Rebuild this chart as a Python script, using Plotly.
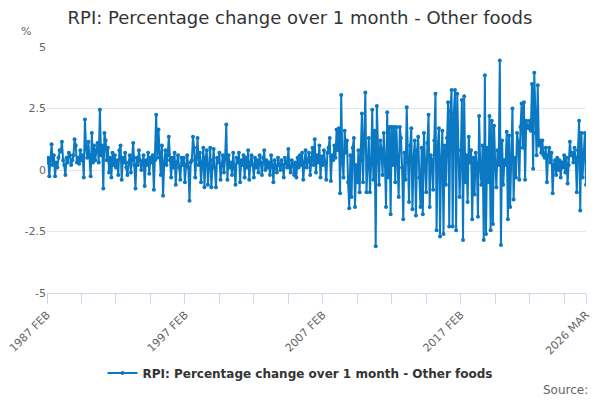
import plotly.graph_objects as go

# Monthly % change, RPI other foods, Feb 1987 - Mar 2026
y1987 = [0.3, 0.5, -0.25, 0.4, 1.05, 0.2, 0.6, -0.25, 0.3, 0.1, 0.5]
y1988 = [0.8, 0.75, 1.15, 0.4, 0.2, -0.2, 0.5, 0.3, 0.7, 0.6, 0.2, 0.4]
y1989 = [0.6, 1.25, 1.0, 0.3, 0.5, 0.25, 0.8, 0.4, 0.6, -0.3, 2.05, 0.9]
y1990 = [0.5, 1.15, 0.6, -0.25, 1.5, 0.3, 1.0, 0.4, 0.8, 1.1, 0.3, 2.45]
y1991 = [0.6, 1.0, -0.75, 1.5, 1.2, 0.4, 0.9, -0.1, 0.5, -0.3, 0.7, 0.2]
y1992 = [0.6, 0.1, 0.4, -0.2, 0.8, 1.0, -0.4, 0.5, 0.3, 0.7, 0.1, -0.2]
y1993 = [0.3, 0.6, -0.1, 0.4, 1.1, 0.2, -0.75, 0.5, 0.2, 0.8, 0.4, 0.0]
y1994 = [0.3, 0.6, -0.65, 0.4, 0.2, 0.7, -0.15, 0.5, 0.3, 0.6, -0.8, 0.4]
y1995 = [2.25, 0.5, 1.65, 0.7, -0.2, 1.0, -1.05, 0.3, 0.8, 0.2, 0.6, 1.35]
y1996 = [0.4, -0.3, 0.5, 0.1, 0.7, -0.6, 0.3, 0.6, 0.1, -0.4, 0.5, 0.2]
y1997 = [0.5, -0.5, 0.2, 0.6, 0.1, -1.25, 0.3, 0.4, 1.35, 0.9, -0.3, 0.5]
y1998 = [1.3, 0.2, 0.7, -0.5, 0.3, 0.9, -0.7, 0.5, 0.8, -0.6, 0.2, 0.9]
y1999 = [-0.7, 0.4, 0.85, 0.1, -0.7, 0.5, 0.3, 0.7, -0.4, 0.2, 0.6, -0.1]
y2000 = [0.5, 1.85, -0.4, 0.6, 0.1, 0.3, -0.2, 0.7, 0.2, -0.6, 0.5, 0.3]
y2001 = [0.7, -0.5, 0.4, 0.2, 0.6, -0.3, 0.5, 0.1, 0.8, -0.4, 0.3, 0.6]
y2002 = [0.2, -0.3, 0.5, 0.1, 0.4, -0.1, 0.6, 0.3, -0.2, 0.5, 0.8, 0.0]
y2003 = [0.4, 0.1, 0.3, -0.2, 0.6, 0.2, -0.5, 0.4, 0.1, -0.1, 0.5, 0.2]
y2004 = [0.0, 0.4, 0.2, -0.3, 0.5, 0.3, 0.1, 0.85, 0.1, -0.1, 0.4, 0.2]
y2005 = [-0.2, 0.3, -0.3, 0.5, 0.1, 0.6, 0.2, 0.7, -0.4, 0.3, 0.8, 0.1]
y2006 = [0.4, 0.7, -0.2, 0.5, 0.9, 0.2, 1.25, -0.1, 0.6, 0.3, 1.0, -0.3]
y2007 = [0.55, 0.2, 0.8, 0.3, -0.4, 0.7, 0.9, 1.3, -0.45, 0.6, 0.4, 1.0]
y2008 = [0.5, 1.65, 0.8, 1.7, -0.95, 3.05, 0.3, -0.3, 1.6, 0.7, 1.2, -0.5]
y2009 = [-1.55, 0.6, -1.1, 0.9, 1.3, -1.5, 0.2, -0.5, 0.8, -0.9, 0.4, 2.3]
y2010 = [-0.5, 1.0, 3.15, -0.9, 0.5, 1.3, -0.9, 0.2, 2.45, -0.4, 1.6, -3.1]
y2011 = [2.6, 0.3, -0.6, 1.2, 0.85, -0.2, 1.5, 0.4, -1.5, 2.35, -0.3, 1.75]
y2012 = [-1.8, 1.75, 0.2, 1.75, -0.5, 1.75, 0.6, -1.1, 1.75, 1.3, 0.1, -2.0]
y2013 = [0.7, -0.4, 2.55, 0.3, -1.3, 1.0, 1.7, -1.6, 0.5, 1.2, -1.85, 0.8]
y2014 = [1.35, -0.3, -1.5, 0.9, -1.8, 1.5, 0.4, -0.9, 1.1, 2.25, -1.5, 0.6]
y2015 = [0.4, -0.8, 1.2, 3.1, -2.45, 0.9, 1.7, -2.7, 0.5, 1.6, -2.6, 1.0]
y2016 = [-0.6, 1.3, 2.75, -2.3, 2.4, 3.25, -2.3, 2.3, 3.25, -2.45, 3.1, 0.8]
y2017 = [-1.1, 0.4, 2.85, -2.85, 3.0, -0.5, 0.6, -1.3, 1.35, 0.3, 0.8, -2.0]
y2018 = [0.5, -1.0, 0.7, 0.2, -1.9, 2.2, 0.1, -0.6, 1.0, -2.85, 3.85, -2.6]
y2019 = [0.9, -0.5, 2.2, -2.45, 2.0, -2.2, 1.8, 0.3, -0.7, 0.8, 0.2, 4.45]
y2020 = [-3.05, 1.2, -0.6, 0.4, 0.2, 1.55, -2.0, 1.4, -1.5, 0.6, 2.5, -1.2]
y2021 = [0.5, -0.3, 1.5, 1.15, -0.4, 1.75, 2.7, 0.9, 2.75, -0.4, 2.0, 1.8]
y2022 = [1.7, 2.0, 1.6, 3.5, 0.05, 3.95, 1.5, 0.6, 3.45, 1.0, 1.2, 0.7]
y2023 = [1.2, 0.6, 0.5, 0.9, -0.5, 0.6, 0.9, 0.3, 0.7, -0.95, 0.2, 0.4]
y2024 = [-0.2, 0.5, 0.0, 0.4, -0.3, 0.3, 0.1, 0.6, -0.1, 0.5, -0.55, 0.2]
y2025 = [1.15, 0.6, 0.7, 0.3, 0.9, 0.5, -0.9, 0.8, 2.0, -1.65, 1.5, -0.3]
y2026 = [0.6, 1.5, -0.6]

yearly = [y1987, y1988, y1989, y1990, y1991, y1992, y1993, y1994, y1995, y1996,
          y1997, y1998, y1999, y2000, y2001, y2002, y2003, y2004, y2005, y2006,
          y2007, y2008, y2009, y2010, y2011, y2012, y2013, y2014, y2015, y2016,
          y2017, y2018, y2019, y2020, y2021, y2022, y2023, y2024, y2025, y2026]

MONTHS = ["JAN", "FEB", "MAR", "APR", "MAY", "JUN",
          "JUL", "AUG", "SEP", "OCT", "NOV", "DEC"]

# category labels, one per monthly value
labels, values = [], []
for k, vals in enumerate(yearly):
    year = 1987 + k
    start = 1 if year == 1987 else 0
    for j, v in enumerate(vals):
        labels.append(f"{year} {MONTHS[start + j]}")
        values.append(v)

n = len(values)
# ticks every 30 months, labelled every 120, plus the last month
tick_idx = list(range(0, n, 30)) + [n - 1]
tickvals = [labels[i] for i in tick_idx]
ticktext = [labels[i] if (i % 120 == 0 or i == n - 1) else "" for i in tick_idx]

LINE_BLUE = "#0a78c2"
AXIS_COL = "#ccd6eb"
GRID_COL = "#e6e6e6"
FONT = "DejaVu Sans"

# plot area in pixels
L, R, T, B = 47, 586, 47, 293

fig = go.Figure()
fig.add_trace(go.Scatter(
    x=labels, y=values,
    mode="lines+markers",
    line=dict(color=LINE_BLUE, width=2),
    marker=dict(color=LINE_BLUE, size=4),
    name="<b>RPI: Percentage change over 1 month - Other foods</b>"
))

fig.update_layout(
    width=600, height=400,
    margin=dict(l=L, r=600 - R, t=T, b=400 - B, autoexpand=False),
    paper_bgcolor="white", plot_bgcolor="white",
    font=dict(family=FONT, color="#666666", size=11),
    title=dict(text="RPI: Percentage change over 1 month - Other foods",
               x=0.5, xanchor="center", y=1 - 18 / 400, yanchor="middle",
               font=dict(family=FONT, size=18, color="#333333")),
    showlegend=True,
    legend=dict(orientation="h", xref="container", x=0.5, xanchor="center",
                yref="container", y=1 - 373 / 400, yanchor="middle",
                font=dict(family=FONT, size=12, color="#333333")),
    xaxis=dict(type="category", range=[0, n - 1], automargin=False,
               tickmode="array", tickvals=tickvals, ticktext=ticktext,
               tickangle=-45, ticks="outside", ticklen=10, tickcolor=AXIS_COL,
               showline=True, linecolor=AXIS_COL, linewidth=1,
               showgrid=False, zeroline=False,
               tickfont=dict(size=11, color="#666666")),
    yaxis=dict(range=[-5, 5], tickmode="array", automargin=False,
               tickvals=[-5, -2.5, 0, 2.5, 5],
               ticktext=["-5", "-2.5", "0", "2.5", "5"],
               showgrid=True, gridcolor=GRID_COL, gridwidth=1,
               zeroline=False, showline=False, ticks="",
               tickfont=dict(size=11, color="#666666")),
)

fig.add_annotation(text="%", xref="paper", yref="paper",
                   x=(26 - L) / (R - L), y=(B - 32) / (B - T),
                   xanchor="center", yanchor="middle", showarrow=False,
                   font=dict(family=FONT, size=11, color="#666666"))
fig.add_annotation(text="Source:", xref="paper", yref="paper",
                   x=(590 - L) / (R - L), y=-(390 - B) / (B - T),
                   xanchor="right", yanchor="middle", showarrow=False,
                   font=dict(family=FONT, size=12, color="#666666"))

# the page body has a default 8px margin; drop it so the figure sits at the corner
fig.write_html("out.html", config={"displayModeBar": False},
               post_script="document.body.style.margin = '0';")
